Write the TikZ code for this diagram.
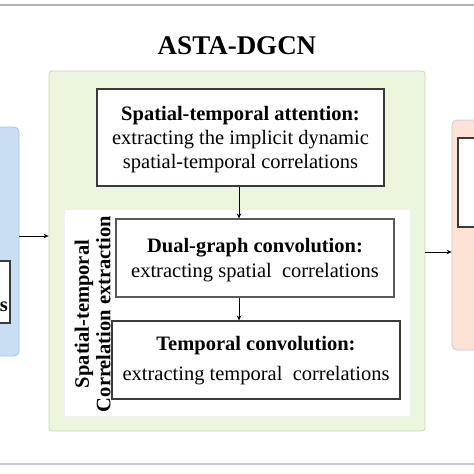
\documentclass[tikz,border=0pt]{standalone}
\usepackage{fontspec}
\setmainfont{Liberation Serif}
\usetikzlibrary{arrows.meta}
\definecolor{greenfill}{HTML}{EBF6DD}
\definecolor{greenline}{HTML}{C9D4BE}
\definecolor{bluefill}{HTML}{C9DEF2}
\definecolor{blueline}{HTML}{A9C4E0}
\definecolor{pinkfill}{HTML}{FCE3D6}
\definecolor{pinkline}{HTML}{C8C4DA}
\definecolor{boxline}{HTML}{3A3A3A}
\tikzset{
  txt/.style={font=\fontsize{20.5}{24}\selectfont, align=center, inner sep=0pt},
  stbox/.style={draw=boxline, line width=1.1pt, fill=white, inner sep=0pt},
  arr/.style={-{Stealth[length=5pt,width=4.5pt]}, line width=0.8pt, black},
}
\begin{document}
\begin{tikzpicture}[x=1pt,y=-1pt]
\useasboundingbox (0,0) rectangle (474,474);
\fill[white] (0,0) rectangle (474,474);
% frame lines
\draw[line width=1.8pt, color=black!30] (0,5) -- (474,5);
\draw[line width=1.8pt, color=pinkline] (0,464) -- (474,464);
% title
\node[txt, font=\fontsize{27}{30}\selectfont\bfseries] (title) at (237,46) {ASTA-DGCN};
% left input box
\node[draw=blueline, fill=bluefill, rounded corners=5pt, line width=0.8pt,
      minimum width=39pt, minimum height=229pt, inner sep=0pt] (inp) at (-0.5,241.5) {};
\node[stbox, minimum width=30pt, minimum height=62pt] (inbox) at (-5,292) {};
\node[txt, font=\fontsize{20.5}{24}\selectfont\bfseries, anchor=base east] (ins) at (8,311) {s};
% main green box
\node[draw=greenline, fill=greenfill, rounded corners=3pt, line width=0.8pt,
      minimum width=376pt, minimum height=360pt, inner sep=0pt] (main) at (237,251) {};
% right output box
\node[draw=pinkline, fill=pinkfill, rounded corners=5pt, line width=0.8pt,
      minimum width=40pt, minimum height=230pt, inner sep=0pt] (out) at (472,235) {};
\node[stbox, minimum width=30pt, minimum height=89pt] (outbox) at (473,182.5) {};
% attention box
\node[stbox, minimum width=287pt, minimum height=97pt] (att) at (240.5,137.5) {};
\node[txt] (atttext) at (240.5,139.5) {\textbf{Spatial-temporal attention:}\\extracting the implicit dynamic\\spatial-temporal correlations};
% correlation extraction white panel
\node[fill=white, draw=black!6, line width=0.6pt, minimum width=346pt, minimum height=207pt, inner sep=0pt] (corr) at (237,312.5) {};
\node[txt, font=\fontsize{20.5}{21.5}\selectfont\bfseries, rotate=90] (corrlabel) at (92.5,314) {Spatial-temporal\\Correlation extraction};
% dual-graph box
\node[stbox, draw=black!65, minimum width=278pt, minimum height=78pt] (dual) at (255,258) {};
\node[txt, font=\fontsize{20.5}{25}\selectfont] (dualtext) at (255,260) {\textbf{Dual-graph convolution:}\\extracting spatial\ \ correlations};
% temporal box
\node[stbox, minimum width=288pt, minimum height=78pt] (temp) at (256,360) {};
\node[txt, font=\fontsize{20.5}{30}\selectfont] (temptext) at (256,361) {\textbf{Temporal convolution:}\\extracting temporal\ \ correlations};
% connectors
\draw[arr] (att.south -| 239,0) -- (dual.north -| 239,0);
\draw[arr] (dual.south -| 239,0) -- (temp.north -| 239,0);
\draw[arr] (inp.east |- 0,236) -- (main.west |- 0,236);
\draw[arr] (main.east |- 0,252) -- (out.west |- 0,252);
\end{tikzpicture}
\end{document}
